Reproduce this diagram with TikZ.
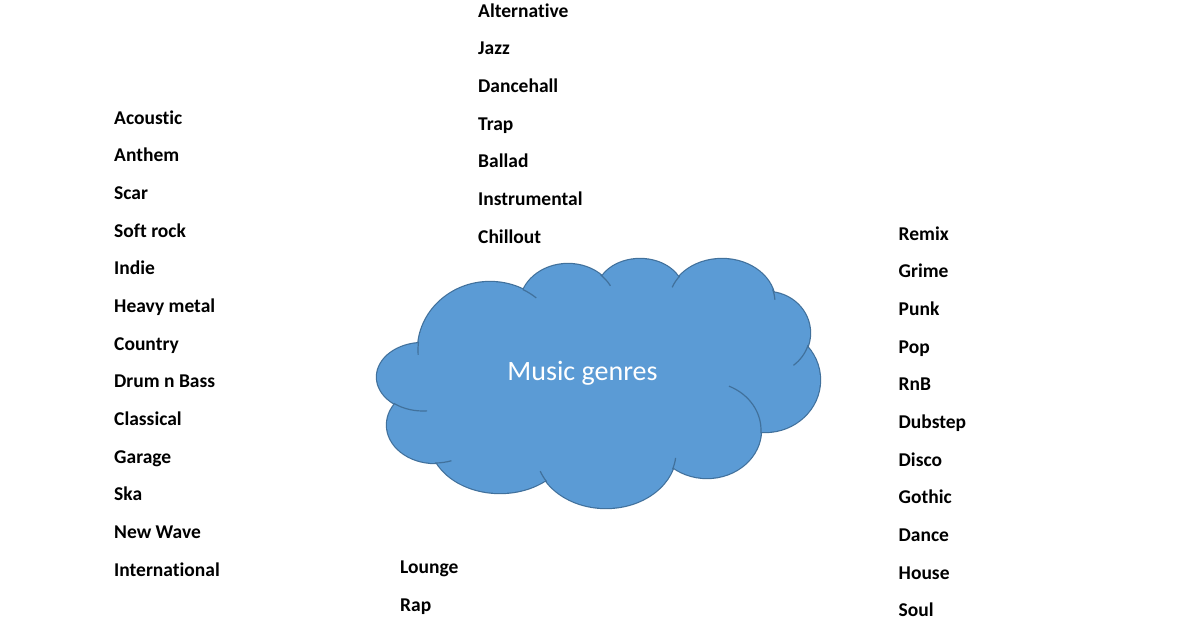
\documentclass[tikz,border=0pt]{standalone}
\usepackage{fontspec}
\setmainfont{Carlito}[Ligatures=CommonOff]
\definecolor{cloudfill}{HTML}{5B9BD5}
\definecolor{cloudedge}{HTML}{41719C}
\begin{document}
\begin{tikzpicture}[x=1pt,y=-1pt,
  genre/.style={anchor=base west, inner sep=0pt, text=black, font=\fontsize{19.5}{23}\selectfont\bfseries},
  title/.style={anchor=base, inner sep=0pt, text=white, font=\fontsize{28}{32}\selectfont},
  lobeedge/.style={draw=cloudedge, line width=2.4pt},
  lobefill/.style={fill=cloudfill},
  innerarc/.style={draw=cloudedge, line width=1.2pt}]
\useasboundingbox (0,0) rectangle (1200,630);
\fill[white] (0,0) rectangle (1200,630);
% cloud: outer strokes, then fills, then inner arc fragments
\foreach \cx/\cy/\rx/\ry in {423/377/46/34, 490/350/72/68, 568/305/48/41, 640/292/43/33,
  722/302/53/43, 767/333/43/41, 765/380/55/52, 707/430/54/48, 606/452/70/56,
  500/440/70/53, 435/425/48/38}
  \path[lobeedge] (\cx,\cy) ellipse [x radius=\rx, y radius=\ry];
\foreach \cx/\cy/\rx/\ry in {423/377/46/34, 490/350/72/68, 568/305/48/41, 640/292/43/33,
  722/302/53/43, 767/333/43/41, 765/380/55/52, 707/430/54/48, 606/452/70/56,
  500/440/70/53, 435/425/48/38, 600/380/150/90}
  \path[lobefill] (\cx,\cy) ellipse [x radius=\rx, y radius=\ry];
\foreach \cx/\cy/\rx/\ry/\ta/\tb in {490/350/72/68/-63/-50, 490/350/72/68/187/176,
  568/305/48/41/-47/-28, 722/302/53/43/-143/-160, 722/302/53/43/-17/-3,
  767/333/43/41/17/52, 707/430/54/48/4/-66, 606/452/70/56/18/6,
  606/452/70/56/148/160, 435/425/48/38/90/70, 423/377/46/34/129/85}
  \draw[innerarc] ({\cx+\rx*cos(\ta)},{\cy+\ry*sin(\ta)}) arc[start angle=\ta, end angle=\tb, x radius=\rx, y radius=\ry];
\node[title] (center) at (582.5,380) {Music genres};
% left column
\node[genre] (acoustic) at (114,124) {Acoustic};
\node[genre] (anthem) at (114,161.7) {Anthem};
\node[genre] (scar) at (114,199.3) {Scar};
\node[genre] (softrock) at (114,237) {Soft rock};
\node[genre] (indie) at (114,274.7) {Indie};
\node[genre] (heavymetal) at (114,312.3) {Heavy metal};
\node[genre] (country) at (114,350) {Country};
\node[genre] (drumnbass) at (114,387.7) {Drum n Bass};
\node[genre] (classical) at (114,425.3) {Classical};
\node[genre] (garage) at (114,463) {Garage};
\node[genre] (ska) at (114,500.7) {Ska};
\node[genre] (newwave) at (114,538.3) {New Wave};
\node[genre] (international) at (114,576) {International};
% top column
\node[genre] (alternative) at (478,17) {Alternative};
\node[genre] (jazz) at (478,54.7) {Jazz};
\node[genre] (dancehall) at (478,92.3) {Dancehall};
\node[genre] (trap) at (478,130) {Trap};
\node[genre] (ballad) at (478,167.7) {Ballad};
\node[genre] (instrumental) at (478,205.3) {Instrumental};
\node[genre] (chillout) at (478,243) {Chillout};
% right column
\node[genre] (remix) at (898.5,240) {Remix};
\node[genre] (grime) at (898.5,277.7) {Grime};
\node[genre] (punk) at (898.5,315.3) {Punk};
\node[genre] (pop) at (898.5,353) {Pop};
\node[genre] (rnb) at (898.5,390.7) {RnB};
\node[genre] (dubstep) at (898.5,428.3) {Dubstep};
\node[genre] (disco) at (898.5,466) {Disco};
\node[genre] (gothic) at (898.5,503.7) {Gothic};
\node[genre] (dance) at (898.5,541.3) {Dance};
\node[genre] (house) at (898.5,579) {House};
\node[genre] (soul) at (898.5,616.7) {Soul};
% bottom
\node[genre] (lounge) at (400,573.5) {Lounge};
\node[genre] (rap) at (400,611.2) {Rap};
\end{tikzpicture}
\end{document}
